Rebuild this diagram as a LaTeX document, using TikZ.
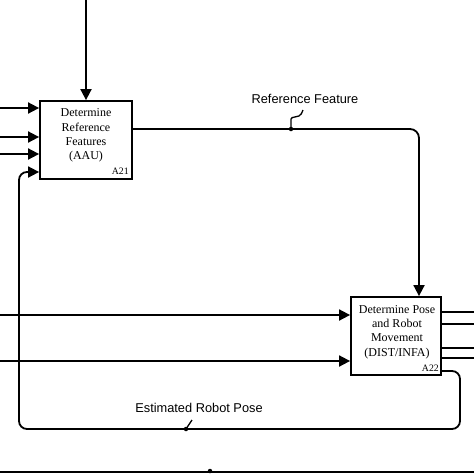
\documentclass[tikz,border=0pt]{standalone}
\usepackage{fontspec}
\setmainfont{Liberation Serif}
\setsansfont{Liberation Sans}
\usetikzlibrary{arrows.meta}
\tikzset{
  ln/.style={line width=1.8pt, line join=round},
  arr/.style={ln, -{Triangle[length=11pt,width=11pt]}},
  actbox/.style={draw, line width=1.8pt, rectangle, inner sep=0pt},
  boxtxt/.style={font=\fontsize{12}{14.3}\selectfont, align=center, inner sep=0pt},
  boxid/.style={font=\fontsize{9.8}{10}\selectfont, inner sep=0pt},
  arrowlbl/.style={font=\sffamily\fontsize{12.8}{14}\selectfont, inner sep=0pt},
  dotc/.style={circle, fill, inner sep=0pt, minimum size=4.5pt}
}
\begin{document}
\begin{tikzpicture}[x=1pt,y=-1pt]
\useasboundingbox (0,0) rectangle (474,474);
% boxes
\node[actbox, minimum width=92pt, minimum height=78pt] (a21) at (86,140) {};
\node[boxtxt] (a21t) at (86,135.5) {Determine\\Reference\\Features\\(AAU)};
\node[boxid, anchor=south east] (a21id) at (129,175) {A21};
\node[actbox, minimum width=90pt, minimum height=78pt] (a22) at (396,336) {};
\node[boxtxt] (a22t) at (397,332) {Determine Pose\\and Robot\\Movement\\(DIST/INFA)};
\node[boxid, anchor=south east] (a22id) at (439,372) {A22};
% free ends
\coordinate (ctop) at (86,0);
\coordinate (cin1) at (0,108);
\coordinate (cin2) at (0,137);
\coordinate (cin3) at (0,154);
\coordinate (cin4) at (0,315);
\coordinate (cin5) at (0,361);
\coordinate (cout1) at (474,312);
\coordinate (cout2) at (474,324);
\coordinate (cout3) at (474,348);
\coordinate (cout4) at (474,358);
\coordinate (bl) at (0,472);
\coordinate (br) at (474,472);
% connectors into A21
\draw[arr] (ctop) -- (ctop |- a21.north);
\draw[arr] (cin1) -- (cin1 -| a21.west);
\draw[arr] (cin2) -- (cin2 -| a21.west);
\draw[arr] (cin3) -- (cin3 -| a21.west);
% inputs into A22
\draw[arr] (cin4) -- (cin4 -| a22.west);
\draw[arr] (cin5) -- (cin5 -| a22.west);
% outputs of A22
\draw[ln] (cout1 -| a22.east) -- (cout1);
\draw[ln] (cout2 -| a22.east) -- (cout2);
\draw[ln] (cout3 -| a22.east) -- (cout3);
\draw[ln] (cout4 -| a22.east) -- (cout4);
% reference feature
\draw[arr, rounded corners=9pt] (a21.east |- 0,129) -- (419,129) -- (419,0 |- a22.north);
\node[dotc] (rfdot) at (291,129) {};
\draw[ln, line width=1.3pt] (rfdot.center) -- (291,119) .. controls (292,116) and (296,118) .. (299,116) .. controls (301,115) and (302,113) .. (303,110);
\node[arrowlbl] (rflbl) at (305,99) {Reference Feature};
% feedback
\draw[arr, rounded corners=8pt] (a22.east |- 0,371) -- (460,371) -- (460,429) -- (19,429) -- (19,172) -- (a21.west |- 0,172);
\node[dotc] (erdot) at (186,429) {};
\draw[ln, line width=1.3pt] (erdot.center) .. controls (188,426) .. (192,420);
\node[arrowlbl] (erlbl) at (199,408) {Estimated Robot Pose};
% bottom line
\draw[line width=2.5pt] (bl) -- (br);
\node[dotc] (bdot) at (210,471) {};
\end{tikzpicture}
\end{document}
